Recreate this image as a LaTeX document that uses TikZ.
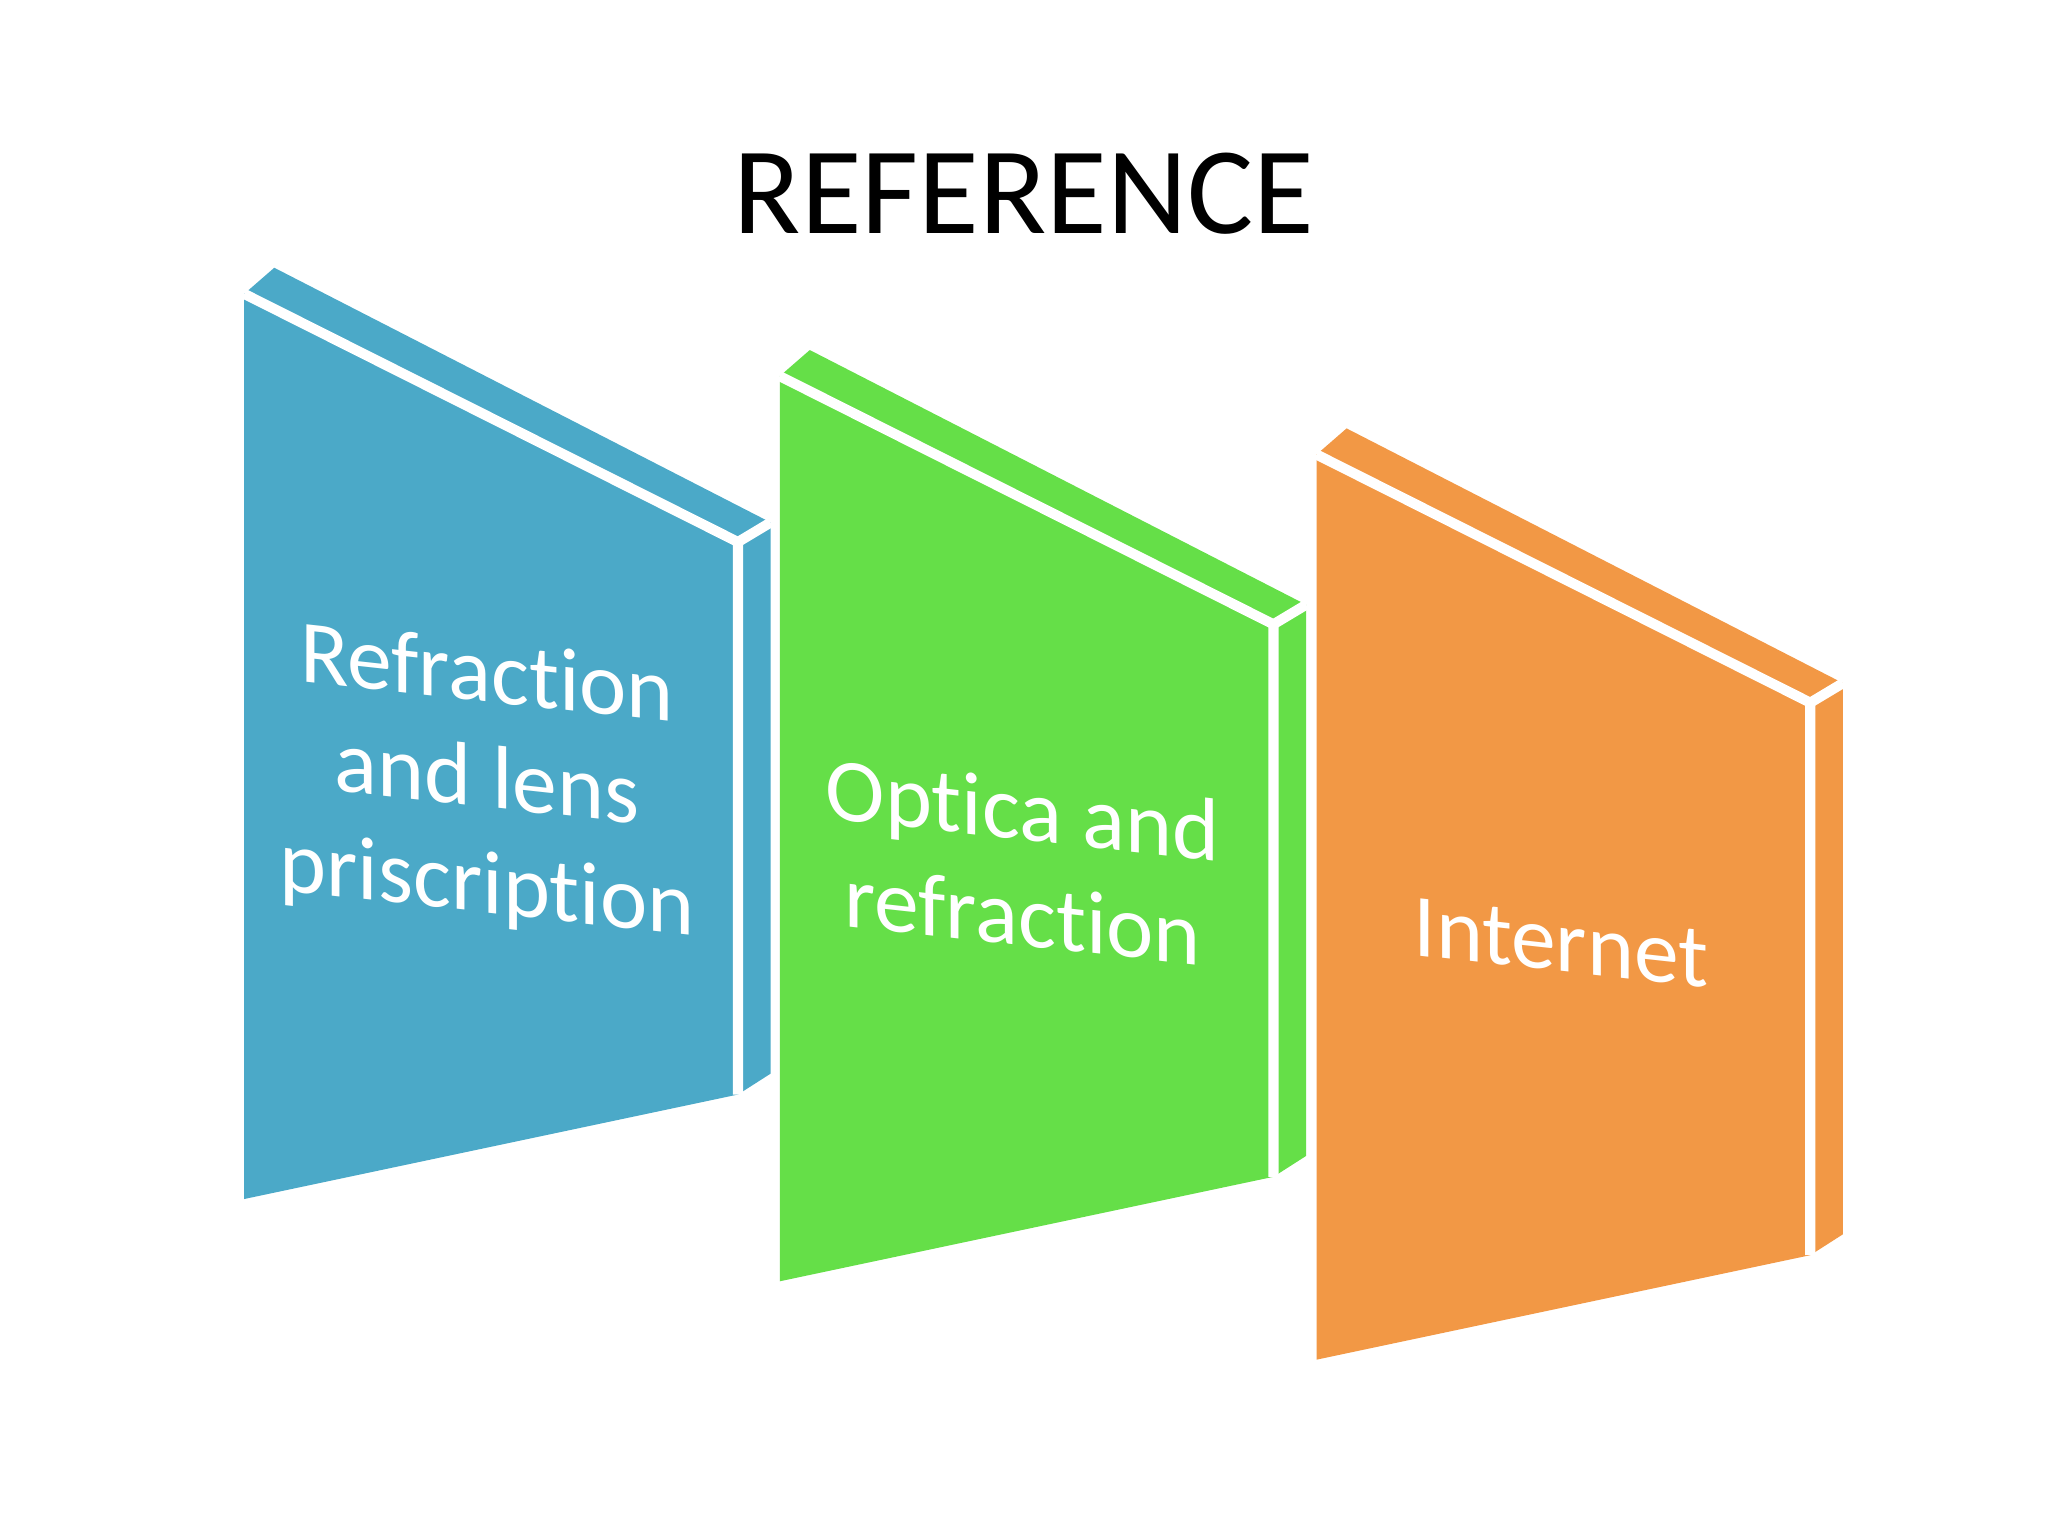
\documentclass[tikz,border=0pt]{standalone}
\usepackage{fontspec}
\setmainfont{Carlito}[Ligatures=NoCommon]
\definecolor{cblue}{HTML}{4BA9C8}
\definecolor{cgreen}{HTML}{65DF48}
\definecolor{corange}{HTML}{F29845}
\tikzset{face/.style={draw=white,line width=2.2pt,line join=round},
lbl/.style={text=white,font=\upshape\fontsize{19.5}{23}\selectfont,align=center,yslant=-0.11}}
\begin{document}
\begin{tikzpicture}[x=0.01cm,y=-0.01cm]
\useasboundingbox[fill=white] (0,0) rectangle (1568,1176);
\node[font=\fontsize{27}{30}\selectfont] (title) at (784,148) {REFERENCE};
\foreach \dx/\dy/\c/\n in {0/0/cblue/a,410/63/cgreen/b,821/123/corange/c}{
\begin{scope}[shift={(\dx,\dy)}]
\fill[\c] (187,225) -- (210,205) -- (590,400) -- (590,822) -- (565,838) -- (187,918) -- cycle;
\draw[face] (187,225) -- (565,415) -- (565,838);
\draw[face] (565,415) -- (590,400);
\end{scope}}
\node[lbl] (t1) at (373,600) {Refraction\\and lens\\priscription};
\node[lbl] (t2) at (783,660) {Optica and\\refraction};
\node[lbl] (t3) at (1195,722) {Internet};
\end{tikzpicture}
\end{document}
